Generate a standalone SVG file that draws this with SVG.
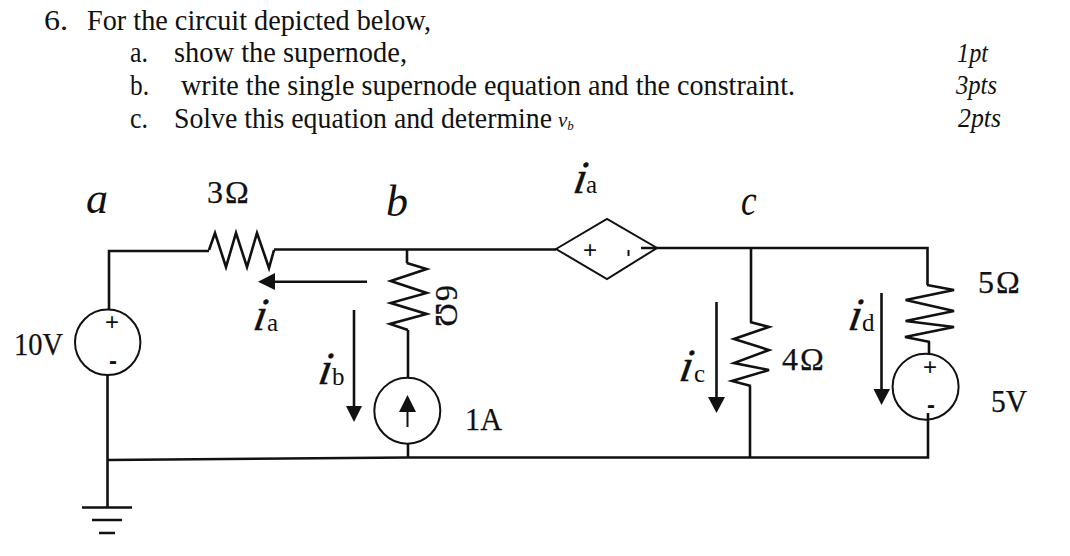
<svg xmlns="http://www.w3.org/2000/svg" width="1070" height="556" viewBox="0 0 1070 556">
<style>
text{font-family:"Liberation Serif","Times New Roman",serif;fill:#111}
.w,.c{fill:none;stroke:#111;stroke-width:2.6;stroke-linejoin:miter}
.c{stroke-width:2}
.q{font-size:29px}
.v{font-size:32px;stroke:#111;stroke-width:.25}
.n{font-size:44px;font-style:italic}
.i{font-size:46px;font-style:italic;stroke:#111;stroke-width:.4}
.s{font-size:25px}
.p{font-size:28px;font-style:italic}
.g{font-family:"Liberation Sans",Arial,sans-serif;font-size:24px}
.m{font-family:"Liberation Sans",Arial,sans-serif;font-size:24px;font-weight:bold}
.h{fill:#111;stroke:none}
</style>
<g id="question">
<text class="q" x="44" y="30" textLength="24" lengthAdjust="spacingAndGlyphs">6.</text>
<text class="q" x="87" y="30" textLength="344" lengthAdjust="spacingAndGlyphs">For the circuit depicted below,</text>
<text class="q" x="130" y="62" textLength="18" lengthAdjust="spacingAndGlyphs">a.</text>
<text class="q" x="174" y="62" textLength="233" lengthAdjust="spacingAndGlyphs">show the supernode,</text>
<text class="q" x="130" y="95" textLength="19" lengthAdjust="spacingAndGlyphs">b.</text>
<text class="q" x="181" y="95" textLength="614" lengthAdjust="spacingAndGlyphs">write the single supernode equation and the constraint.</text>
<text class="q" x="130" y="128" textLength="18" lengthAdjust="spacingAndGlyphs">c.</text>
<text class="q" x="174" y="128" textLength="378" lengthAdjust="spacingAndGlyphs">Solve this equation and determine</text>
<text x="558" y="127" font-size="21" font-style="italic">v<tspan font-size="13" dy="3">b</tspan></text>
<text class="p" x="957" y="62" textLength="31" lengthAdjust="spacingAndGlyphs">1pt</text>
<text class="p" x="956" y="94" textLength="41" lengthAdjust="spacingAndGlyphs">3pts</text>
<text class="p" x="958" y="127" textLength="43" lengthAdjust="spacingAndGlyphs">2pts</text>
</g>
<g id="connectors">
<path class="w" d="M109 309V251H209"/>
<path class="w" d="M274 249.500H556"/>
<path class="w" d="M641 248H927.500V285"/>
<path class="w" d="M107.500 375V507"/>
<path class="w" d="M107 460L408 457.500H928V413"/>
<path class="w" d="M407 249.500V263"/>
<path class="w" d="M408 330V378"/>
<path class="w" d="M408 444V458"/>
<path class="w" d="M751 248V322"/>
<path class="w" d="M750 386V457"/>
<path class="w" d="M929 342V354"/>
</g>
<g id="ground">
<path class="w" d="M82 507.500H132M92 520H122M99 533H115"/>
</g>
<g id="node-a"><text class="n" x="86" y="213">a</text></g>
<g id="node-b"><text class="n" x="386" y="216">b</text></g>
<g id="node-c"><text class="n" transform="translate(741 215) scale(.8 1)">c</text></g>
<g id="source-10v">
<circle class="c" cx="107.700" cy="342.300" r="32.700"/>
<text class="g" x="112" y="330" text-anchor="middle">+</text>
<text class="m" x="113" y="369" text-anchor="middle">-</text>
<text class="v" x="14" y="355" textLength="49" lengthAdjust="spacingAndGlyphs">10V</text>
</g>
<g id="resistor-3">
<path class="w" d="M209 250L215 233L226 267L236 233L247 267L257 233L269 268L274 250"/>
<text class="v" x="207" y="203">3<tspan dx="2">Ω</tspan></text>
</g>
<g id="current-ia">
<path class="w" d="M367 281.700H274"/>
<path class="h" d="M258 281.700L275 273V290Z"/>
<text class="i" transform="translate(252 330) skewX(-10)">i</text>
<text class="s" x="267" y="331">a</text>
</g>
<g id="current-ib">
<path class="w" d="M354 310V407"/>
<path class="h" d="M354 422L346 406H362Z"/>
<text class="i" transform="translate(317 384) skewX(-10)">i</text>
<text class="s" x="332" y="385">b</text>
</g>
<g id="resistor-6">
<path class="w" d="M406.700 263L426.700 269L390.700 281L426.700 293L390.700 303L426.700 314L390 324L408 330"/>
<text class="v" transform="translate(436 285) rotate(90)">6<tspan dx="2">Ω</tspan></text>
</g>
<g id="source-1a">
<circle class="c" cx="407.300" cy="410.700" r="33"/>
<path class="c" d="M407.500 427V410"/>
<path class="h" d="M407.500 395L399 412H416Z"/>
<text class="v" x="465" y="430" textLength="37" lengthAdjust="spacingAndGlyphs">1A</text>
</g>
<g id="dependent-source">
<path class="c" d="M556 249L607 219L657 248L607 279Z"/>
<text class="g" x="590" y="258" text-anchor="middle">+</text>
<path class="c" d="M628.500 250V256"/>
<text class="i" transform="translate(572 193) skewX(-10)">i</text>
<text class="s" x="586" y="193">a</text>
</g>
<g id="current-ic">
<path class="w" d="M716.500 302V398"/>
<path class="h" d="M716.500 413L708 397H725Z"/>
<text class="i" transform="translate(678 381) skewX(-10)">i</text>
<text class="s" x="694" y="382">c</text>
</g>
<g id="resistor-4">
<path class="w" d="M750 322L769 327L734 339L769 350L734 363L769 370L732 381L751 386"/>
<text class="v" x="782" y="370">4<tspan dx="2">Ω</tspan></text>
</g>
<g id="current-id">
<path class="w" d="M881.500 293V390"/>
<path class="h" d="M881.500 405L873.500 389H890Z"/>
<text class="i" transform="translate(847 330) skewX(-10)">i</text>
<text class="s" x="862" y="331">d</text>
</g>
<g id="resistor-5">
<path class="w" d="M927 285L954 290L905.600 300L954 311L905.600 321L954 327L905 337L930 342"/>
<text class="v" x="978" y="293">5<tspan dx="2">Ω</tspan></text>
</g>
<g id="source-5v">
<circle class="c" cx="925.600" cy="386.700" r="33"/>
<text class="g" x="930" y="375" text-anchor="middle" font-size="20">+</text>
<text class="m" x="931" y="413" text-anchor="middle">-</text>
<text class="v" x="991" y="412" textLength="36" lengthAdjust="spacingAndGlyphs">5V</text>
</g>
</svg>
